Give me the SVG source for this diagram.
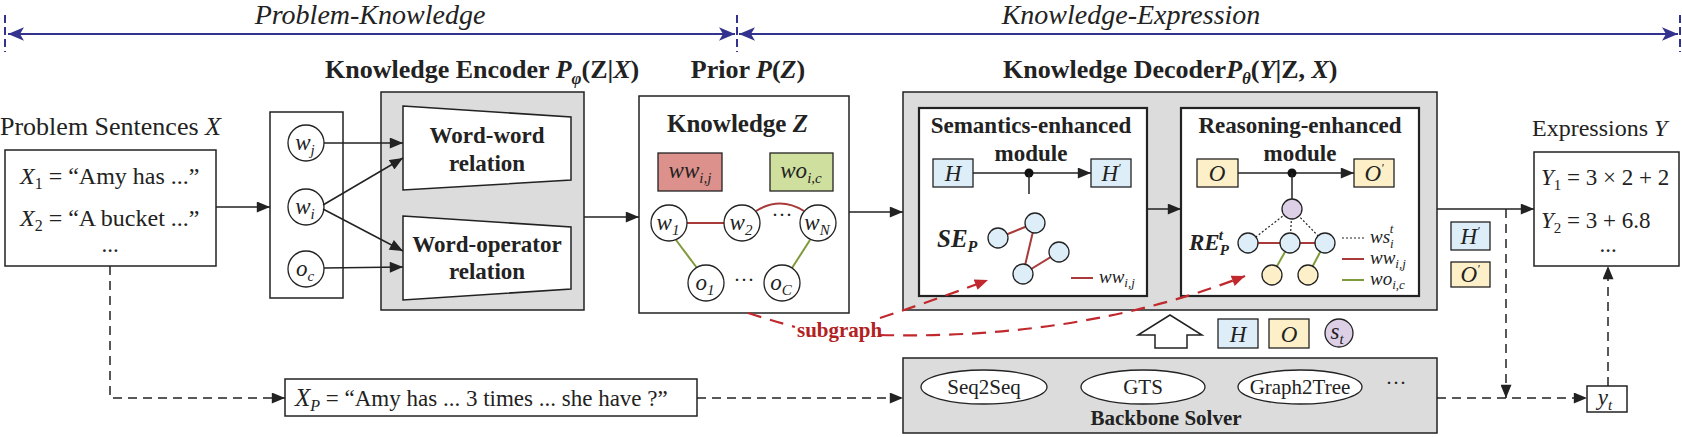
<svg xmlns="http://www.w3.org/2000/svg" width="1682" height="437" viewBox="0 0 1682 437">
<style>
text{font-family:"Liberation Serif","DejaVu Serif",serif;fill:#222}
.b{font-weight:bold}
.i{font-style:italic}
.bx{fill:#fff;stroke:#222;stroke-width:1.5}
.gr{fill:#dcdcdc;stroke:#222;stroke-width:1.5}
.ln{stroke:#222;stroke-width:1.5;fill:none}
.ds{stroke:#222;stroke-width:1.5;fill:none;stroke-dasharray:9 6}
.rd{stroke:#c0282d;stroke-width:2.2;fill:none;stroke-dasharray:14 9}
.nv{stroke:#33338f;stroke-width:2;fill:none}
.cw{fill:#fff;stroke:#222;stroke-width:1.3}
.cb{fill:#deeef8;stroke:#222;stroke-width:1.3}
.cy{fill:#fdf0c8;stroke:#222;stroke-width:1.3}
.cp{fill:#ddd0e6;stroke:#222;stroke-width:1.3}
.tt{font-size:26px}
.t24{font-size:24px}
.t23{font-size:23px}
.t21{font-size:21px}
.m{font-style:italic;font-size:23px}
</style>
<defs>
<marker id="ah" viewBox="0 0 12 10" refX="12" refY="5" markerWidth="14" markerHeight="11" markerUnits="userSpaceOnUse" orient="auto-start-reverse"><path d="M0,0 L12,5 L0,10 z" fill="#222"/></marker>
<marker id="ar" viewBox="0 0 12 10" refX="12" refY="5" markerWidth="14" markerHeight="11" markerUnits="userSpaceOnUse" orient="auto-start-reverse"><path d="M0,0 L12,5 L0,10 z" fill="#c0282d"/></marker>
<marker id="an" viewBox="0 0 12 10" refX="12" refY="5" markerWidth="16" markerHeight="14" markerUnits="userSpaceOnUse" orient="auto-start-reverse"><path d="M0,0 L12,5 L0,10 L3,5 z" fill="#33338f"/></marker>
</defs>

<g id="phases">
<line class="nv" x1="8" y1="34" x2="735" y2="34" marker-start="url(#an)" marker-end="url(#an)"/>
<line class="nv" x1="739" y1="34" x2="1678" y2="34" marker-start="url(#an)" marker-end="url(#an)"/>
<line class="nv" x1="5" y1="15" x2="5" y2="52" stroke-dasharray="8 4"/>
<line class="nv" x1="737" y1="15" x2="737" y2="52" stroke-dasharray="8 4"/>
<line class="nv" x1="1680" y1="15" x2="1680" y2="52" stroke-dasharray="8 4"/>
<text x="370" y="24" text-anchor="middle" class="i" font-size="28">Problem-Knowledge</text>
<text x="1131" y="24" text-anchor="middle" class="i" font-size="28">Knowledge-Expression</text>
</g>

<g id="problem">
<text x="0" y="135" class="tt">Problem Sentences <tspan class="i">X</tspan></text>
<rect class="bx" x="5" y="150" width="211" height="116"/>
<text x="20" y="184" class="t24"><tspan class="i">X</tspan><tspan font-size="16" dy="5">1</tspan><tspan dy="-5"> = “Amy has ...”</tspan></text>
<text x="20" y="226" class="t24"><tspan class="i">X</tspan><tspan font-size="16" dy="5">2</tspan><tspan dy="-5"> = “A bucket ...”</tspan></text>
<text x="110" y="252" class="t23" text-anchor="middle">...</text>
</g>

<g id="words">
<rect class="bx" x="270" y="112" width="73" height="186"/>
<circle class="cw" cx="306" cy="143" r="18"/><text x="305" y="150" class="m" text-anchor="middle">w<tspan font-size="15" dy="5">j</tspan></text>
<circle class="cw" cx="306" cy="207" r="18"/><text x="305" y="214" class="m" text-anchor="middle">w<tspan font-size="15" dy="5">i</tspan></text>
<circle class="cw" cx="306" cy="269" r="18"/><text x="305" y="276" class="m" text-anchor="middle">o<tspan font-size="15" dy="5">c</tspan></text>
</g>

<g id="encoder">
<text x="325" y="78" class="b tt">Knowledge Encoder <tspan class="i">P</tspan><tspan font-size="17" dy="6" class="i">φ</tspan><tspan dy="-6">(Z|</tspan><tspan class="i">X</tspan>)</text>
<rect class="gr" x="381" y="92" width="203" height="218"/>
<path class="bx" d="M403,106 L571,117 L571,180 L403,190 z"/>
<text x="487" y="143" class="b t23" text-anchor="middle">Word-word</text>
<text x="487" y="171" class="b t23" text-anchor="middle">relation</text>
<path class="bx" d="M403,216 L571,227 L571,289 L403,300 z"/>
<text x="487" y="252" class="b t23" text-anchor="middle">Word-operator</text>
<text x="487" y="279" class="b t23" text-anchor="middle">relation</text>
</g>

<g id="knowledgeZ">
<text x="748" y="78" class="b tt" text-anchor="middle">Prior  <tspan class="i">P</tspan>(<tspan class="i">Z</tspan>)</text>
<rect class="bx" x="639" y="96" width="210" height="217"/>
<text x="667" y="132" class="b" font-size="25">Knowledge  <tspan class="i">Z</tspan></text>
<rect x="658" y="153" width="64" height="38" fill="#dd918c" stroke="#222" stroke-width="1.3"/>
<text x="690" y="178" class="m" text-anchor="middle">ww<tspan font-size="15" dy="5">i,j</tspan></text>
<rect x="770" y="153" width="63" height="38" fill="#cfdf9e" stroke="#222" stroke-width="1.3"/>
<text x="801" y="178" class="m" text-anchor="middle">wo<tspan font-size="15" dy="5">i,c</tspan></text>
<line x1="687" y1="223" x2="724" y2="223" stroke="#a83a3a" stroke-width="2"/>
<path d="M756,211 Q780,196 804,211" stroke="#a83a3a" stroke-width="2" fill="none"/>
<line x1="676" y1="240" x2="697" y2="268" stroke="#7f9a3a" stroke-width="2"/>
<line x1="810" y1="240" x2="792" y2="268" stroke="#7f9a3a" stroke-width="2"/>
<circle class="cw" cx="669" cy="223" r="18"/><text x="668" y="230" class="m" text-anchor="middle">w<tspan font-size="15" dy="5">1</tspan></text>
<circle class="cw" cx="742" cy="223" r="18"/><text x="741" y="230" class="m" text-anchor="middle">w<tspan font-size="15" dy="5">2</tspan></text>
<text x="782" y="222" class="t21" text-anchor="middle">···</text>
<circle class="cw" cx="818" cy="223" r="18"/><text x="817" y="230" class="m" text-anchor="middle">w<tspan font-size="15" dy="5">N</tspan></text>
<circle class="cw" cx="706" cy="283" r="18"/><text x="705" y="290" class="m" text-anchor="middle">o<tspan font-size="15" dy="5">1</tspan></text>
<text x="744" y="287" class="t21" text-anchor="middle">···</text>
<circle class="cw" cx="782" cy="283" r="18"/><text x="781" y="290" class="m" text-anchor="middle">o<tspan font-size="15" dy="5">C</tspan></text>
</g>

<g id="decoder">
<text x="1003" y="78" class="b tt">Knowledge Decoder<tspan class="i">P</tspan><tspan font-size="17" dy="6" class="i">θ</tspan><tspan dy="-6">(</tspan><tspan class="i">Y</tspan>|Z, <tspan class="i">X</tspan>)</text>
<rect class="gr" x="903" y="92" width="534" height="218"/>
</g>

<g id="semantics">
<rect x="919" y="108" width="228" height="188" fill="#fff" stroke="#222" stroke-width="2.2"/>
<text x="1031" y="133" class="b t23" text-anchor="middle">Semantics-enhanced</text>
<text x="1031" y="161" class="b t23" text-anchor="middle">module</text>
<rect class="cb" x="933" y="159" width="40" height="28"/><text x="953" y="181" class="m" text-anchor="middle">H</text>
<rect class="cb" x="1091" y="159" width="40" height="28"/><text x="1111" y="181" class="m" text-anchor="middle">H<tspan font-size="12" dy="-9">′</tspan></text>
<line class="ln" x1="973" y1="173" x2="1091" y2="173" marker-end="url(#ah)"/>
<circle cx="1029" cy="173" r="4.5" fill="#111"/>
<line class="ln" x1="1029" y1="173" x2="1029" y2="194"/>
<text x="937" y="247" class="b i" font-size="25">SE<tspan font-size="16" dy="5">P</tspan></text>
<g stroke="#a83a3a" stroke-width="2"><line x1="998" y1="238" x2="1035" y2="223"/><line x1="1035" y1="223" x2="1023" y2="274"/><line x1="1023" y1="274" x2="1059" y2="252"/></g>
<circle class="cb" cx="998" cy="238" r="10"/><circle class="cb" cx="1035" cy="223" r="10"/><circle class="cb" cx="1059" cy="252" r="10"/><circle class="cb" cx="1023" cy="274" r="10"/>
<line x1="1071" y1="278" x2="1093" y2="278" stroke="#a83a3a" stroke-width="2"/>
<text x="1099" y="283" class="i" font-size="19">ww<tspan font-size="13" dy="4">i,j</tspan></text>
</g>

<g id="reasoning">
<rect x="1181" y="108" width="238" height="188" fill="#fff" stroke="#222" stroke-width="2.2"/>
<text x="1300" y="133" class="b t23" text-anchor="middle">Reasoning-enhanced</text>
<text x="1300" y="161" class="b t23" text-anchor="middle">module</text>
<rect class="cy" x="1197" y="159" width="41" height="28"/><text x="1217" y="181" class="m" text-anchor="middle">O</text>
<rect class="cy" x="1354" y="159" width="40" height="28"/><text x="1374" y="181" class="m" text-anchor="middle">O<tspan font-size="12" dy="-9">′</tspan></text>
<line class="ln" x1="1238" y1="173" x2="1354" y2="173" marker-end="url(#ah)"/>
<circle cx="1292" cy="173" r="4.5" fill="#111"/>
<line class="ln" x1="1292" y1="173" x2="1292" y2="199"/>
<text x="1189" y="250" class="b i" font-size="23">RE<tspan font-size="15" dy="5">P</tspan><tspan font-size="15" dx="-10" dy="-15">t</tspan></text>
<g stroke="#222" stroke-width="1.2" stroke-dasharray="2 2"><line x1="1292" y1="209" x2="1248" y2="243"/><line x1="1292" y1="209" x2="1290" y2="243"/><line x1="1292" y1="209" x2="1325" y2="243"/></g>
<g stroke="#a83a3a" stroke-width="2"><line x1="1248" y1="243" x2="1325" y2="243"/></g>
<g stroke="#7f9a3a" stroke-width="2"><line x1="1290" y1="243" x2="1272" y2="275"/><line x1="1325" y1="243" x2="1308" y2="275"/></g>
<circle class="cp" cx="1292" cy="209" r="10"/>
<circle class="cb" cx="1248" cy="243" r="10"/><circle class="cb" cx="1290" cy="243" r="10"/><circle class="cb" cx="1325" cy="243" r="10"/>
<circle class="cy" cx="1272" cy="275" r="10"/><circle class="cy" cx="1308" cy="275" r="10"/>
<line x1="1342" y1="238" x2="1364" y2="238" stroke="#222" stroke-width="1.2" stroke-dasharray="2 2"/>
<text x="1370" y="243" class="i" font-size="19">ws<tspan font-size="13" dy="5">i</tspan><tspan font-size="13" dx="-4" dy="-15">t</tspan></text>
<line x1="1342" y1="259" x2="1364" y2="259" stroke="#a83a3a" stroke-width="2"/>
<text x="1370" y="264" class="i" font-size="19">ww<tspan font-size="13" dy="4">i,j</tspan></text>
<line x1="1342" y1="280" x2="1364" y2="280" stroke="#7f9a3a" stroke-width="2"/>
<text x="1370" y="285" class="i" font-size="19">wo<tspan font-size="13" dy="4">i,c</tspan></text>
</g>

<g id="states">
<path d="M1170,315 L1202,335 L1187,335 L1187,348 L1155,348 L1155,335 L1138,335 z" fill="#fff" stroke="#222" stroke-width="1.5"/>
<rect class="cb" x="1218" y="319" width="40" height="29"/><text x="1238" y="342" class="m" text-anchor="middle">H</text>
<rect class="cy" x="1269" y="319" width="40" height="29"/><text x="1289" y="342" class="m" text-anchor="middle">O</text>
<circle class="cp" cx="1339" cy="333" r="14"/><text x="1337" y="339" class="m" text-anchor="middle">s<tspan font-size="15" dy="5">t</tspan></text>
<rect class="cb" x="1451" y="222" width="39" height="28"/><text x="1470" y="244" class="m" text-anchor="middle">H<tspan font-size="12" dy="-9">′</tspan></text>
<rect class="cy" x="1451" y="262" width="39" height="25"/><text x="1470" y="282" class="m" text-anchor="middle">O<tspan font-size="12" dy="-9">′</tspan></text>
</g>

<g id="backbone">
<rect class="gr" x="903" y="358" width="534" height="75"/>
<ellipse class="cw" cx="984" cy="387" rx="63" ry="17"/><text x="984" y="394" class="t21" text-anchor="middle">Seq2Seq</text>
<ellipse class="cw" cx="1143" cy="387" rx="62" ry="17"/><text x="1143" y="394" class="t21" text-anchor="middle">GTS</text>
<ellipse class="cw" cx="1300" cy="387" rx="62" ry="17"/><text x="1300" y="394" class="t21" text-anchor="middle">Graph2Tree</text>
<text x="1396" y="390" class="t21" text-anchor="middle">···</text>
<text x="1166" y="425" class="b t21" text-anchor="middle">Backbone Solver</text>
</g>

<g id="xp">
<rect class="bx" x="285" y="379" width="412" height="37"/>
<text x="295" y="406" class="t23"><tspan class="i" font-size="25">X</tspan><tspan class="i" font-size="16" dy="5">P</tspan><tspan dy="-5"> = “Amy has ... 3 times ... she have ?”</tspan></text>
</g>

<g id="expressions">
<text x="1532" y="136" class="t24">Expressions <tspan class="i">Y</tspan></text>
<rect class="bx" x="1534" y="152" width="145" height="114"/>
<text x="1541" y="185" class="t23"><tspan class="i">Y</tspan><tspan font-size="15" dy="5">1</tspan><tspan dy="-5"> = 3 × 2 + 2</tspan></text>
<text x="1541" y="228" class="t23"><tspan class="i">Y</tspan><tspan font-size="15" dy="5">2</tspan><tspan dy="-5"> = 3 + 6.8</tspan></text>
<text x="1608" y="252" class="t23" text-anchor="middle">...</text>
</g>

<g id="yt">
<rect class="bx" x="1587" y="386" width="40" height="26"/>
<text x="1605" y="405" class="m" text-anchor="middle">y<tspan font-size="15" dy="5">t</tspan></text>
</g>

<g id="connectors">
<line class="ln" x1="216" y1="207" x2="270" y2="207" marker-end="url(#ah)"/>
<line class="ln" x1="324" y1="143" x2="403" y2="143" marker-end="url(#ah)"/>
<line class="ln" x1="323" y1="205" x2="403" y2="158" marker-end="url(#ah)"/>
<line class="ln" x1="323" y1="209" x2="403" y2="251" marker-end="url(#ah)"/>
<line class="ln" x1="324" y1="268" x2="403" y2="267" marker-end="url(#ah)"/>
<line class="ln" x1="584" y1="217" x2="639" y2="217" marker-end="url(#ah)"/>
<line class="ln" x1="849" y1="212" x2="903" y2="212" marker-end="url(#ah)"/>
<line class="ln" x1="1147" y1="209" x2="1181" y2="209" marker-end="url(#ah)"/>
<line class="ln" x1="1437" y1="209" x2="1534" y2="209" marker-end="url(#ah)"/>
<polyline class="ds" points="110,266 110,398 285,398" marker-end="url(#ah)"/>
<line class="ds" x1="697" y1="398" x2="903" y2="398" marker-end="url(#ah)"/>
<line class="ds" x1="1506" y1="209" x2="1506" y2="398" marker-end="url(#ah)"/>
<line class="ds" x1="1437" y1="398" x2="1587" y2="398" marker-end="url(#ah)"/>
<line class="ds" x1="1608" y1="386" x2="1608" y2="266" marker-end="url(#ah)"/>
<path class="rd" d="M748,313 Q770,320 795,327"/>
<path class="rd" d="M880,318 Q935,300 988,280" marker-end="url(#ar)"/>
<path class="rd" d="M880,335 Q1080,340 1245,276" marker-end="url(#ar)"/>
<text x="797" y="337" class="b t21" style="fill:#b22222">subgraph</text>
</g>
</svg>
